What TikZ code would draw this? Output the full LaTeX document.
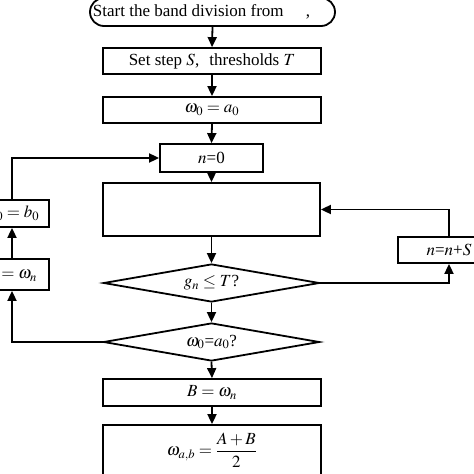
\documentclass[tikz,border=0pt]{standalone}
\usepackage{mathptmx}
\usepackage[no-math]{fontspec}
\setmainfont{Liberation Serif}
\usetikzlibrary{arrows.meta,shapes.geometric,shapes.misc}
\begin{document}
\begin{tikzpicture}[x=1pt,y=-1pt,
  every node/.style={font=\fontsize{17}{19}\selectfont},
  box/.style={draw,line width=1.8pt,rectangle,inner sep=0pt},
  term/.style={draw,line width=1.8pt,rounded rectangle,inner sep=0pt},
  dia/.style={draw,line width=1.8pt,diamond,aspect=5.68,inner sep=0pt,minimum width=216pt,minimum height=38pt},
  arr/.style={line width=1.8pt,-{Triangle[length=10pt,width=9pt]}},
  ln/.style={line width=1.8pt}]
\useasboundingbox (0,0) rectangle (474,474);
\clip (0,0) rectangle (474,474);
\node[term,minimum width=245pt,minimum height=28pt] (start) at (212.5,12) {Start the band division from\hspace{1.3em},\hspace{22pt}\null};
\node[box,minimum width=218pt,minimum height=26pt] (set) at (212,61) {Set step $S$,\hspace{0.6em}thresholds $T$};
\node[box,minimum width=218pt,minimum height=26pt] (w0) at (212,110) {$\omega_0=a_0$};
\node[box,minimum width=103pt,minimum height=28pt] (n0) at (211.5,158) {$n$=0};
\node[box,minimum width=217pt,minimum height=53pt] (big) at (211.5,209.5) {};
\node[dia] (d1) at (211.5,283) {$g_n\le T$?};
\node[dia] (d2) at (211.5,342) {$\omega_0$=$a_0$?};
\node[box,minimum width=218pt,minimum height=27pt] (B) at (212,392.5) {$B=\omega_n$};
\node[box,minimum width=218pt,minimum height=50pt] (fin) at (212,450) {$\omega_{a,b}=\displaystyle\frac{A+B}{2}$};
\node[box,minimum width=74pt,minimum height=27pt] (l1) at (12,213.5) {$\omega_0=b_0$};
\node[box,minimum width=74pt,minimum height=31pt] (l2) at (12,274.5) {$A=\omega_n$};
\node[box,minimum width=102pt,minimum height=26pt] (r) at (449,250) {$n$=$n$+$S$};
\draw[arr] (start.south) -- (set.north);
\draw[arr] (set.south) -- (w0.north);
\draw[arr] (w0.south) -- (n0.north);
\draw[arr] (n0.south) -- (big.north);
\draw[arr] (big.south) -- (d1.north);
\draw[arr] (d1.south) -- (d2.north);
\draw[arr] (d2.south) -- (B.north);
\draw[arr] (B.south) -- (fin.north);
\draw[arr] (d1.east) -| (r.south);
\draw[arr] (r.north) |- (big.east);
\draw[arr] (d2.west) -| (l2.south);
\draw[arr] (l2.north) -- (l1.south);
\draw[arr] (l1.north) |- (n0.west);
\end{tikzpicture}
\end{document}
